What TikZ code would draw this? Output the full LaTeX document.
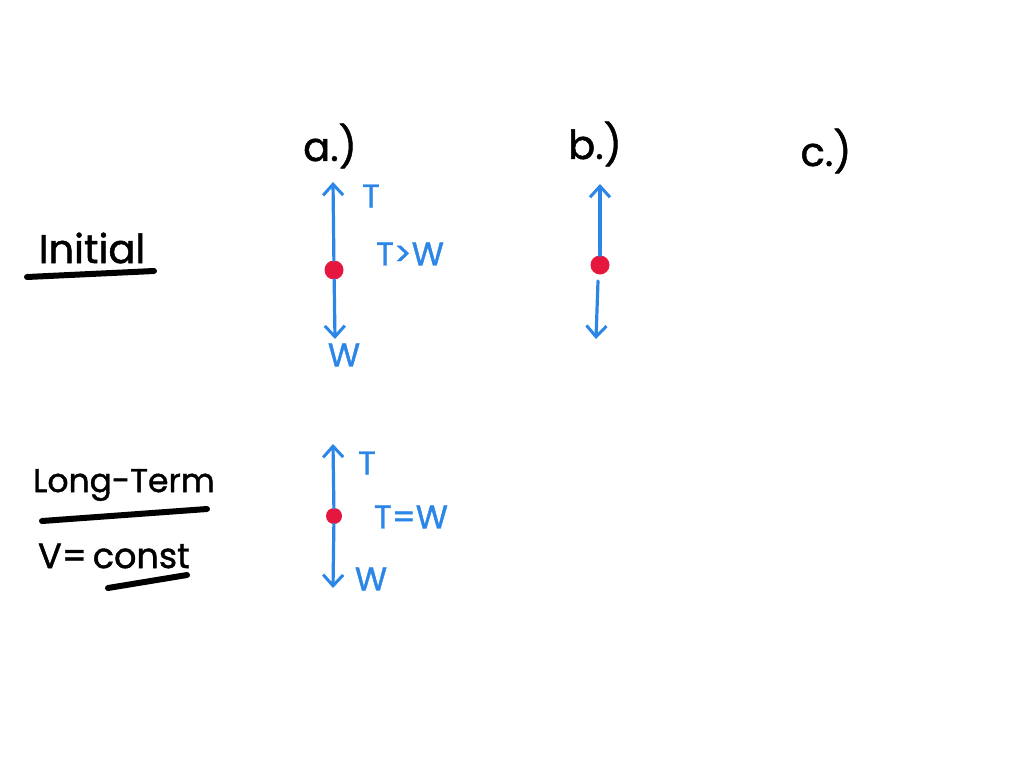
\documentclass[tikz,border=0pt]{standalone}
\usepackage{fontspec}
\newfontfamily\hand[FakeBold=1.2]{Poppins}
\usetikzlibrary{arrows.meta}
\definecolor{penblue}{HTML}{2C86E8}
\definecolor{penred}{HTML}{E5173F}
\tikzset{
  force/.style={penblue, line width=3.2pt, line cap=round, -{Straight Barb[length=11pt,width=20pt,line width=3pt]}},
  dotnode/.style={circle, fill=penred, inner sep=0pt, minimum size=19pt},
  blab/.style={text=penblue, font=\hand\fontsize{33}{38}\selectfont, inner sep=0pt},
  klab/.style={text=black, font=\hand\fontsize{40}{46}\selectfont, inner sep=0pt},
  hlab/.style={text=black, font=\hand\fontsize{33}{38}\selectfont, inner sep=0pt},
  uline/.style={black, line width=6pt, line cap=round}
}
\begin{document}
\begin{tikzpicture}[x=1pt,y=-1pt]
\useasboundingbox (0,0) rectangle (1024,768);
\fill[white] (0,0) rectangle (1024,768);
% headings
\node[klab] (ha) at (330,146) {a.)};
\node[klab] (hb) at (595,144) {b.)};
\node[klab] (hc) at (826,151) {c.)};
% row labels
\node[hlab, font=\hand\fontsize{40}{46}\selectfont] (init) at (92,248) {Initial};
\coordinate (u1a) at (27,277);
\coordinate (u1b) at (154,271);
\draw[uline] (u1a) -- (u1b);
\node[hlab] (lt) at (124,485) {Long-Term};
\coordinate (u2a) at (42,521);
\coordinate (u2b) at (207,509);
\draw[uline] (u2a) -- (u2b);
\node[hlab, font=\hand\fontsize{35}{40}\selectfont] (vc) at (114,556) {V=\,const};
\coordinate (u3a) at (108,588);
\coordinate (u3b) at (187,575);
\draw[uline] (u3a) -- (u3b);
% a.) initial
\node[dotnode] (da) at (334,270) {};
\coordinate (ta) at (333,182);
\coordinate (wa) at (335,339);
\draw[force] (da) -- (ta);
\draw[force] (da) -- (wa);
\node[blab] (lta) at (371,196) {T};
\node[blab] (ltw) at (410,254) {T>W};
\node[blab] (lwa) at (344,355) {W};
% b.) initial
\node[dotnode] (db) at (600,265) {};
\coordinate (tb) at (600,184);
\coordinate (wb) at (596,339);
\coordinate (gb) at (598,281);
\draw[force] (db) -- (tb);
\draw[force] (gb) -- (wb);
% a.) long term
\node[dotnode, minimum size=16pt] (dl) at (334,516) {};
\coordinate (tl) at (333,444);
\coordinate (wl) at (333,588);
\draw[force] (dl) -- (tl);
\draw[force] (dl) -- (wl);
\node[blab] (ltl) at (367,463) {T};
\node[blab] (lte) at (411,517) {T=W};
\node[blab] (lwl) at (371,579) {W};
\end{tikzpicture}
\end{document}
